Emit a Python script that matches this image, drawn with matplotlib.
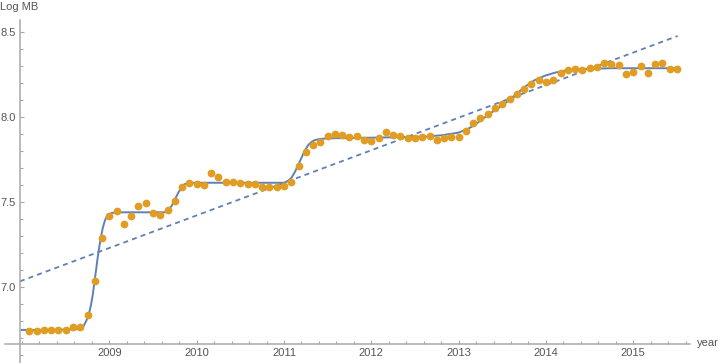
import matplotlib.pyplot as plt
import numpy as np

# monthly observations, Feb 2008 .. Jul 2015
month = np.arange(1, 91)
year = 2008 + month / 12
log_mb = [6.739, 6.742, 6.748, 6.745, 6.748, 6.748, 6.763, 6.763, 6.833, 7.034,
          7.291, 7.417, 7.450, 7.369, 7.417, 7.480, 7.493, 7.434, 7.426, 7.452,
          7.505, 7.588, 7.615, 7.605, 7.599, 7.670, 7.646, 7.617, 7.617, 7.611,
          7.605, 7.604, 7.588, 7.591, 7.591, 7.597, 7.621, 7.711, 7.794, 7.835,
          7.856, 7.890, 7.900, 7.896, 7.884, 7.890, 7.868, 7.862, 7.877, 7.912,
          7.894, 7.888, 7.876, 7.876, 7.886, 7.888, 7.864, 7.880, 7.886, 7.882,
          7.918, 7.965, 7.994, 8.019, 8.053, 8.077, 8.106, 8.136, 8.165, 8.194,
          8.218, 8.210, 8.222, 8.259, 8.277, 8.283, 8.277, 8.289, 8.295, 8.318,
          8.312, 8.306, 8.253, 8.265, 8.301, 8.259, 8.312, 8.318, 8.283, 8.283]

# step fit
fit_x = [2007.997, 2008.359, 2008.627, 2008.676, 2008.710, 2008.741, 2008.768,
         2008.790, 2008.810, 2008.828, 2008.848, 2008.867, 2008.885, 2008.905,
         2008.924, 2008.943, 2008.962, 2008.989, 2009.027, 2009.085, 2009.638,
         2009.676, 2009.715, 2009.752, 2009.790, 2009.829, 2009.867, 2009.924,
         2011.000, 2011.050, 2011.089, 2011.126, 2011.164, 2011.203, 2011.241,
         2011.279, 2011.318, 2011.355, 2011.413, 2011.508, 2012.043, 2012.615,
         2012.806, 2012.996, 2013.111, 2013.188, 2013.302, 2013.417, 2013.531,
         2013.646, 2013.760, 2013.875, 2013.989, 2014.104, 2014.218, 2014.370,
         2014.561, 2014.733, 2015.501]
fit_y = [6.747, 6.747, 6.751, 6.754, 6.774, 6.806, 6.845,
         6.894, 6.953, 7.022, 7.100, 7.175, 7.237, 7.296,
         7.346, 7.381, 7.407, 7.424, 7.436, 7.440, 7.440,
         7.454, 7.479, 7.517, 7.556, 7.588, 7.607, 7.614,
         7.614, 7.626, 7.646, 7.679, 7.719, 7.764, 7.807,
         7.837, 7.856, 7.866, 7.872, 7.876, 7.880, 7.886,
         7.894, 7.909, 7.933, 7.956, 8.000, 8.043, 8.082,
         8.131, 8.180, 8.220, 8.245, 8.263, 8.275, 8.283,
         8.286, 8.289, 8.289]

# linear trend
trend_x = [2007.975, 2015.508]
trend_y = [7.033, 8.479]

blue = '#5E81B5'
orange = '#E19C24'
grey = '#a8a8a8'
txt = '#555555'

plt.rcParams['font.family'] = ['Liberation Sans', 'DejaVu Sans']
fig = plt.figure(figsize=(7.2, 3.63), dpi=100)
ax = fig.add_axes([0, 0, 1, 1])
ax.set_xlim(2007.748, 2015.993)
ax.set_ylim(6.552, 8.691)

ax.plot(trend_x, trend_y, color=blue, lw=1.3, dashes=(2.8, 2.3), zorder=2)
ax.plot(fit_x, fit_y, color=blue, lw=1.4, zorder=3)
ax.plot(year, log_mb, 'o', color=orange, ms=5.6, mew=0, zorder=4)

for s in ['top', 'right']:
    ax.spines[s].set_visible(False)
ax.spines['left'].set_position(('data', 2007.973))
ax.spines['left'].set_bounds(6.552, 8.575)
ax.spines['bottom'].set_position(('data', 6.662))
ax.spines['bottom'].set_bounds(2007.806, 2015.65)
for s in ['left', 'bottom']:
    ax.spines[s].set_color(grey)
    ax.spines[s].set_linewidth(1.1)

ax.set_xticks(range(2009, 2016))
ax.set_xticks(np.round(np.arange(2008.0, 2015.61, 0.2), 1), minor=True)
ax.set_yticks([7.0, 7.5, 8.0, 8.5])
ax.set_yticklabels(['7.0', '7.5', '8.0', '8.5'])
ax.set_yticks(np.round(np.arange(6.6, 8.45, 0.1), 1), minor=True)
ax.tick_params(which='both', direction='in', color=grey, width=0.8,
               labelcolor=txt, labelsize=8)
ax.tick_params(which='major', length=3.2)
ax.tick_params(which='minor', length=1.9)
ax.tick_params(axis='x', pad=2.6)
ax.tick_params(axis='y', pad=3.0)

ax.text(0.0, 1 - 7 / 363, 'Log MB', transform=ax.transAxes, ha='left',
        va='center', fontsize=8, color=txt)
ax.text(697 / 720, 1 - 343 / 363, 'year', transform=ax.transAxes,
        ha='left', va='center', fontsize=8, color=txt)

fig.savefig('out.png', dpi=100)
